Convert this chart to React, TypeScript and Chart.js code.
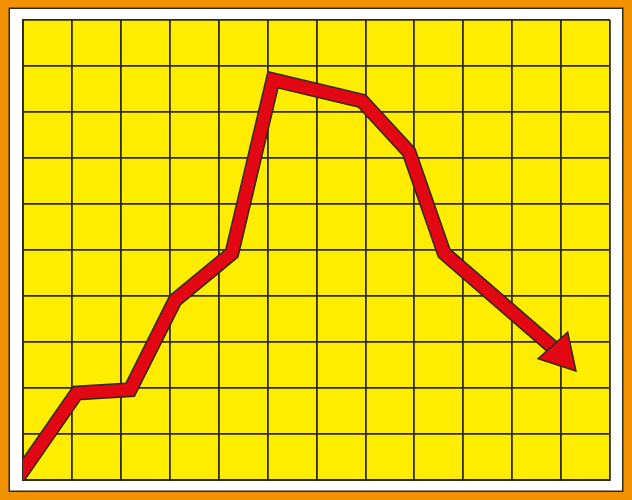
import { useEffect, useRef } from 'react'
import { Chart, registerables } from 'chart.js'

Chart.register(...registerables)

// grid units: 12 columns x 10 rows
const xValues = [-0.22, 1.1, 2.19, 3.11, 4.27, 5.11, 6.93, 7.89, 8.61, 10.99]
const yValues = [-0.13, 1.89, 1.96, 3.91, 4.93, 8.7, 8.24, 7.13, 4.93, 2.74]
const arrowRadius = 23
const arrowRotation = 138

const ORANGE = '#F39200'
const YELLOW = '#FFED00'
const RED = '#E30613'
const DARK = '#2f2a1a'

const framePlugin = {
  id: 'frame',
  beforeDraw(chart: Chart) {
    const { ctx, width, height, chartArea } = chart
    ctx.save()
    ctx.fillStyle = ORANGE
    ctx.fillRect(0, 0, width, height)
    ctx.fillStyle = DARK
    ctx.fillRect(8.5, 7.5, width - 17, height - 15.5)
    ctx.fillStyle = '#ffffff'
    ctx.fillRect(10, 9, width - 20, height - 18.5)
    ctx.fillStyle = YELLOW
    ctx.fillRect(chartArea.left, chartArea.top, chartArea.right - chartArea.left, chartArea.bottom - chartArea.top)
    ctx.restore()
  }
}

export default function App() {
  const canvasRef = useRef<HTMLCanvasElement>(null)

  useEffect(() => {
    if (!canvasRef.current) return
    const points = xValues.map((x, i) => ({ x, y: yValues[i] }))
    const last = points.length - 1
    const chart = new Chart(canvasRef.current, {
      type: 'line',
      data: {
        datasets: [
          {
            data: points,
            borderColor: RED,
            borderWidth: 12,
            borderJoinStyle: 'miter',
            borderCapStyle: 'butt',
            pointRadius: points.map((_, i) => (i === last ? arrowRadius : 0)),
            pointStyle: 'triangle',
            pointRotation: arrowRotation,
            pointBackgroundColor: RED,
            pointBorderColor: DARK,
            pointBorderWidth: 1.5,
            clip: 0,
            order: 0
          },
          {
            data: points,
            borderColor: DARK,
            borderWidth: 15,
            borderJoinStyle: 'miter',
            borderCapStyle: 'butt',
            pointRadius: 0,
            clip: 0,
            order: 1
          }
        ]
      },
      options: {
        responsive: true,
        maintainAspectRatio: false,
        animation: false,
        layout: { autoPadding: false, padding: { left: 23, top: 20, right: 22, bottom: 20 } },
        plugins: { legend: { display: false }, tooltip: { enabled: false } },
        scales: {
          x: {
            type: 'linear',
            min: 0,
            max: 12,
            ticks: { display: false, stepSize: 1 },
            grid: { color: DARK, lineWidth: 1.8, drawTicks: false },
            border: { display: true, color: DARK, width: 2 }
          },
          y: {
            type: 'linear',
            min: 0,
            max: 10,
            ticks: { display: false, stepSize: 1 },
            grid: { color: DARK, lineWidth: 1.8, drawTicks: false },
            border: { display: true, color: DARK, width: 2 }
          }
        }
      },
      plugins: [framePlugin]
    })
    return () => {
      chart.destroy()
    }
  }, [])

  return (
    <div style={{ position: 'absolute', left: 0, top: 0, width: 632, height: 500 }}>
      <canvas ref={canvasRef}></canvas>
    </div>
  )
}
